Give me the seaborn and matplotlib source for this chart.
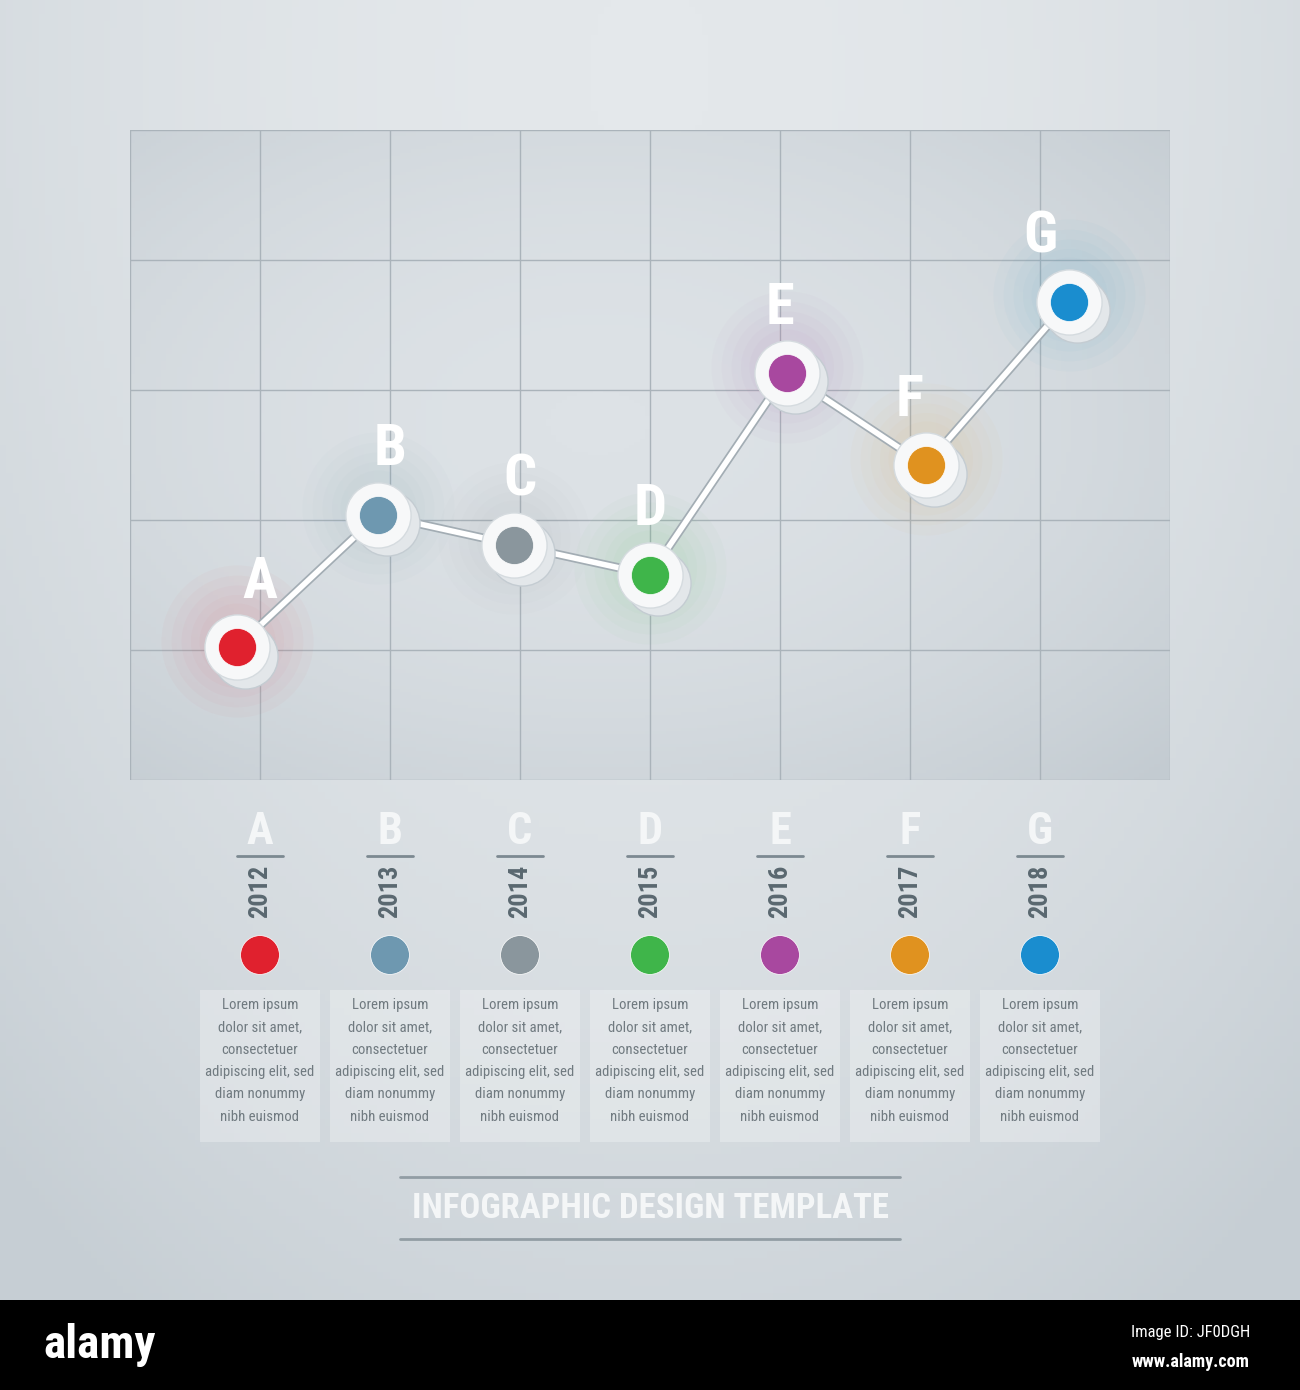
import matplotlib
matplotlib.use("Agg")
import matplotlib.pyplot as plt
import matplotlib.patheffects as pe
from matplotlib import font_manager
from matplotlib.patches import Rectangle
from matplotlib.transforms import offset_copy
import numpy as np
import pandas as pd
import seaborn as sns

# data
letters = ["A", "B", "C", "D", "E", "F", "G"]
years = ["2012", "2013", "2014", "2015", "2016", "2017", "2018"]
x_pos = [0.82, 1.91, 2.95, 4.0, 5.05, 6.12, 7.22]
values = [1.02, 2.04, 1.81, 1.58, 3.13, 2.42, 3.68]
colors = ["#e0212e", "#6e98b0", "#8a969d", "#3fb54a", "#a8489f", "#e0921f", "#1a8dcf"]
blurb = "Lorem ipsum\ndolor sit amet,\nconsectetuer\nadipiscing elit, sed\ndiam nonummy\nnibh euismod"
title = "INFOGRAPHIC DESIGN TEMPLATE"

sns.set_theme(style="white")
names = {f.name for f in font_manager.fontManager.ttflist}
narrow = [f for f in ["Liberation Sans Narrow", "Roboto Condensed", "Open Sans Condensed"] if f in names]
plt.rcParams["font.family"] = narrow + ["Liberation Sans", "DejaVu Sans"]

df = pd.DataFrame({"x": x_pos, "value": values, "letter": letters, "year": years})

W, H = 1300, 1390
fig = plt.figure(figsize=(13, 13.9), dpi=100)
fig.patch.set_facecolor("#d4dadf")

# soft background gradient
bg = fig.add_axes([0, 0, 1, 1], zorder=0)
yy, xx = np.mgrid[0:1:200j, 0:1:200j]
glow = 1 - 0.6 * ((xx - 0.5) ** 2 * 1.6 + (yy - 0.05) ** 2 * 0.8)
bg.imshow(glow, cmap=sns.blend_palette(["#c6ced4", "#e4e8eb"], as_cmap=True),
          extent=[0, W, H, 0], aspect="auto", vmin=0.45, vmax=1.0)
bg.set_xlim(0, W)
bg.set_ylim(H, 0)
bg.axis("off")

# chart panel
ax = fig.add_axes([130 / W, 1 - 780 / H, 1040 / W, 650 / H], zorder=2)
ax.set_xlim(0, 8)
ax.set_ylim(0, 5)
ax.imshow(1 - 0.5 * ((xx - 0.45) ** 2 + (yy - 0.45) ** 2),
          cmap=sns.blend_palette(["#c3cbd1", "#dde2e6"], as_cmap=True),
          extent=[0, 8, 0, 5], aspect="auto", vmin=0.7, vmax=1.0, zorder=0)
ax.set_xticks(range(9))
ax.set_yticks(range(6))
ax.grid(True, color="#aab3ba", linewidth=1.0)
ax.tick_params(length=0, labelbottom=False, labelleft=False)
for s in ax.spines.values():
    s.set_visible(False)

sns.lineplot(data=df, x="x", y="value", ax=ax, color="white", linewidth=4, zorder=3,
             path_effects=[pe.Stroke(linewidth=6.5, foreground="#a3adb4"), pe.Normal()])
for i, row in df.iterrows():
    # soft coloured glow, stacked layers
    for k, size in enumerate([12000, 9000, 6500, 4500, 3000]):
        ax.scatter(row.x, row.value + 0.05, s=size, color=colors[i], alpha=0.025,
                   linewidths=0, zorder=2)
    # cylinder body
    sh = offset_copy(ax.transData, fig=fig, x=6, y=-6, units="points")
    ax.scatter(row.x, row.value, s=2200, color="#e3e7ea", edgecolors="#c4ccd2",
               linewidths=1, zorder=4, transform=sh)
    ax.scatter(row.x, row.value, s=2200, color="#f7f8f9", edgecolors="#d5dbdf",
               linewidths=1, zorder=5)
    ax.scatter(row.x, row.value, s=750, color=colors[i], edgecolors="#ffffff",
               linewidths=0.5, zorder=6)
    ax.text(i + 1, row.value + 0.5, row.letter, ha="center", va="center", color="white",
            fontsize=42, fontweight="bold", zorder=7)

# legend columns below the panel
leg = fig.add_axes([130 / W, 1 - 1300 / H, 1040 / W, 520 / H], zorder=2)
leg.set_xlim(0, 8)
leg.set_ylim(1300, 780)
leg.axis("off")
cols = np.arange(1, 8)
for i, c in enumerate(cols):
    leg.text(c, 832, letters[i], ha="center", va="center", color="#f4f6f7",
             fontsize=32, fontweight="bold")
    leg.plot([c - 0.18, c + 0.18], [856, 856], color="#7c8991", linewidth=2)
    leg.text(c, 891, years[i], ha="center", va="center", rotation=90, color="#5a6870",
             fontsize=19, fontweight="bold")
    leg.add_patch(Rectangle((c - 0.46, 990), 0.92, 152, facecolor="white", alpha=0.28,
                            edgecolor="none"))
    leg.text(c, 1061, blurb, ha="center", va="center", color="#707a80", fontsize=10.6,
             linespacing=1.75)
sns.scatterplot(x=cols, y=[955] * 7, hue=letters, palette=colors, s=780, ax=leg,
                legend=False, edgecolor="#ffffff", linewidth=0.5)

# title block
bg.plot([400, 900], [1177, 1177], color="#929da4", linewidth=2)
bg.plot([400, 900], [1239, 1239], color="#929da4", linewidth=2)
bg.text(650, 1209, title, ha="center", va="center", color="#f4f6f7", fontsize=25,
        fontweight="bold")

# footer bar
bg.add_patch(Rectangle((0, 1300), W, 90, facecolor="black", edgecolor="none"))
bg.text(100, 1345, "alamy", ha="center", va="center", color="white", fontsize=34,
        fontweight="bold")
bg.text(1250, 1332, "Image ID: JF0DGH", ha="right", va="center", color="white", fontsize=12)
bg.text(1250, 1362, "www.alamy.com", ha="right", va="center", color="white", fontsize=13,
        fontweight="bold")

fig.savefig("out.png", dpi=100, facecolor=fig.get_facecolor())
